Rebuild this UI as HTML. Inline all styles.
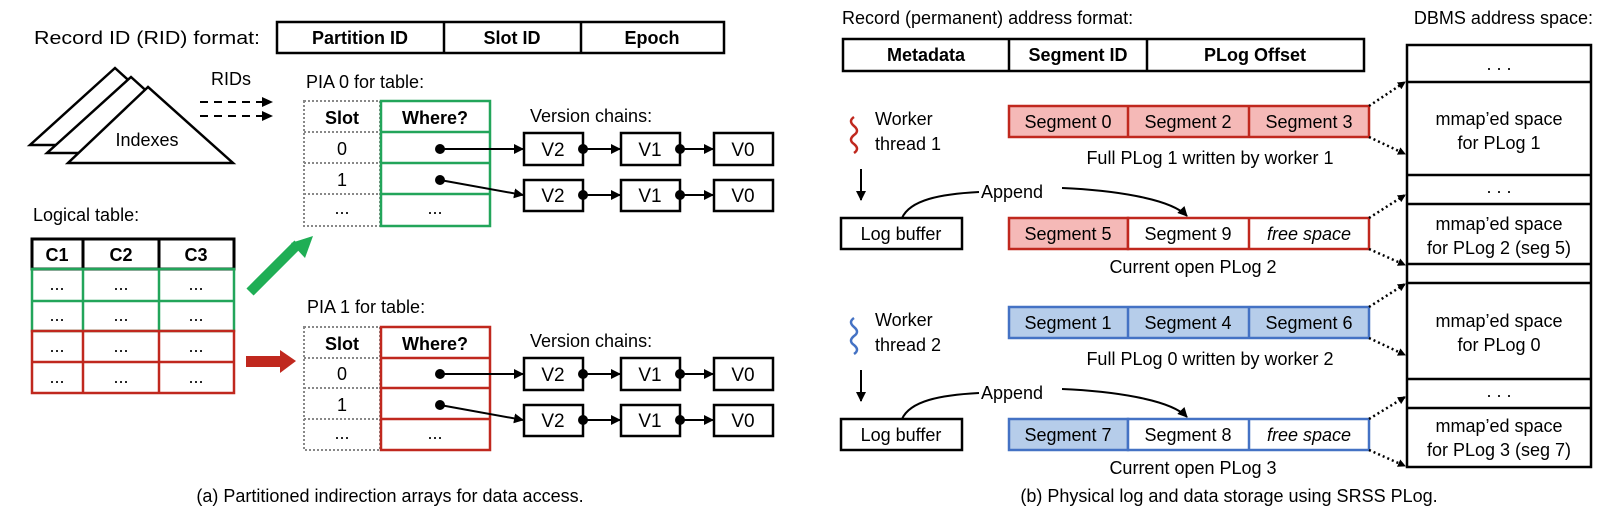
<!DOCTYPE html>
<html><head><meta charset="utf-8"><style>
html,body{margin:0;padding:0;background:#fff;}
svg{display:block;font-family:"Liberation Sans",sans-serif;}
</style></head><body>
<svg width="1620" height="516" viewBox="0 0 1620 516" xmlns="http://www.w3.org/2000/svg">
<defs>
<marker id="ah" markerWidth="10" markerHeight="10" refX="9" refY="5" orient="auto" markerUnits="userSpaceOnUse"><path d="M0,0 L10,5 L0,10 z" fill="#000"/></marker>
<marker id="ah2" markerWidth="8" markerHeight="8" refX="7" refY="4" orient="auto" markerUnits="userSpaceOnUse"><path d="M0,0 L8,4 L0,8 z" fill="#000"/></marker>
</defs>
<rect width="1620" height="516" fill="#fff"/>
<g font-size="18" fill="#000">
<!-- LEFT PANEL -->
<text x="34" y="44" textLength="226" lengthAdjust="spacingAndGlyphs">Record ID (RID) format:</text>
<g stroke="#000" stroke-width="2.5" fill="none">
<rect x="277" y="22" width="447" height="31"/>
<line x1="444" y1="22" x2="444" y2="53"/><line x1="581" y1="22" x2="581" y2="53"/>
</g>
<g font-weight="bold" text-anchor="middle">
<text x="360" y="44">Partition ID</text><text x="512" y="44">Slot ID</text><text x="652" y="44">Epoch</text>
</g>
<!-- triangles -->
<g stroke="#000" stroke-width="2.5" fill="#fff">
<polygon points="115,68 30,145 200,145"/>
<polygon points="131,77 47,153 215,153"/>
<polygon points="148,87 68,163 233,163"/>
</g>
<text x="147" y="146" text-anchor="middle">Indexes</text>
<text x="211" y="85">RIDs</text>
<g stroke="#000" stroke-width="2" stroke-dasharray="8,6"><line x1="200" y1="102" x2="264" y2="102"/><line x1="200" y1="116" x2="264" y2="116"/></g>
<path d="M262,97 L273,102 L262,107z M262,111 L273,116 L262,121z" fill="#000"/>

<!-- PIA 0 -->
<text x="306" y="88">PIA 0 for table:</text>
<g stroke="#888" stroke-width="2" stroke-dasharray="2,2" fill="none">
<rect x="304" y="101" width="76" height="125"/>
<line x1="304" y1="132" x2="380" y2="132"/><line x1="304" y1="163" x2="380" y2="163"/><line x1="304" y1="194" x2="380" y2="194"/>
</g>
<g stroke="#22a55a" stroke-width="2.5" fill="none">
<rect x="381" y="101" width="109" height="125"/>
<line x1="381" y1="132" x2="490" y2="132"/><line x1="381" y1="163" x2="490" y2="163"/><line x1="381" y1="194" x2="490" y2="194"/>
</g>
<g text-anchor="middle">
<text x="342" y="124" font-weight="bold">Slot</text><text x="435" y="124" font-weight="bold">Where?</text>
<text x="342" y="155">0</text><text x="342" y="186">1</text><text x="342" y="214">...</text><text x="435" y="214">...</text>
</g>
<!-- PIA 1 -->
<text x="307" y="313">PIA 1 for table:</text>
<g stroke="#888" stroke-width="2" stroke-dasharray="2,2" fill="none">
<rect x="304" y="327" width="76" height="123"/>
<line x1="304" y1="358" x2="380" y2="358"/><line x1="304" y1="388" x2="380" y2="388"/><line x1="304" y1="419" x2="380" y2="419"/>
</g>
<g stroke="#c0281e" stroke-width="2.5" fill="none">
<rect x="381" y="327" width="109" height="123"/>
<line x1="381" y1="358" x2="490" y2="358"/><line x1="381" y1="388" x2="490" y2="388"/><line x1="381" y1="419" x2="490" y2="419"/>
</g>
<g text-anchor="middle">
<text x="342" y="350" font-weight="bold">Slot</text><text x="435" y="350" font-weight="bold">Where?</text>
<text x="342" y="380">0</text><text x="342" y="411">1</text><text x="342" y="439">...</text><text x="435" y="439">...</text>
</g>

<!-- version chains -->
<text x="530" y="122">Version chains:</text>
<text x="530" y="347">Version chains:</text>
<g stroke="#000" stroke-width="2.5" fill="#fff">
<rect x="524" y="133" width="59" height="32"/><rect x="621" y="133" width="59" height="32"/><rect x="714" y="133" width="59" height="32"/>
<rect x="524" y="180" width="59" height="31"/><rect x="621" y="180" width="59" height="31"/><rect x="714" y="180" width="59" height="31"/>
<rect x="524" y="358" width="59" height="32"/><rect x="621" y="358" width="59" height="32"/><rect x="714" y="358" width="59" height="32"/>
<rect x="524" y="405" width="59" height="31"/><rect x="621" y="405" width="59" height="31"/><rect x="714" y="405" width="59" height="31"/>
</g>
<g text-anchor="middle" font-size="19">
<text x="553" y="156">V2</text><text x="650" y="156">V1</text><text x="743" y="156">V0</text>
<text x="553" y="202">V2</text><text x="650" y="202">V1</text><text x="743" y="202">V0</text>
<text x="553" y="381">V2</text><text x="650" y="381">V1</text><text x="743" y="381">V0</text>
<text x="553" y="427">V2</text><text x="650" y="427">V1</text><text x="743" y="427">V0</text>
</g>
<g stroke="#000" stroke-width="2" fill="none" marker-end="url(#ah)">
<line x1="440" y1="149" x2="523" y2="149"/><line x1="440" y1="180" x2="523" y2="195"/>
<line x1="440" y1="374" x2="523" y2="374"/><line x1="440" y1="405" x2="523" y2="420"/>
<line x1="584" y1="149" x2="620" y2="149"/><line x1="681" y1="149" x2="713" y2="149"/>
<line x1="584" y1="195" x2="620" y2="195"/><line x1="681" y1="195" x2="713" y2="195"/>
<line x1="584" y1="374" x2="620" y2="374"/><line x1="681" y1="374" x2="713" y2="374"/>
<line x1="584" y1="420" x2="620" y2="420"/><line x1="681" y1="420" x2="713" y2="420"/>
</g>
<g fill="#000">
<circle cx="440" cy="149" r="5"/><circle cx="440" cy="180" r="5"/><circle cx="440" cy="374" r="5"/><circle cx="440" cy="405" r="5"/>
<circle cx="583" cy="149" r="5"/><circle cx="680" cy="149" r="5"/><circle cx="583" cy="195" r="5"/><circle cx="680" cy="195" r="5"/>
<circle cx="583" cy="374" r="5"/><circle cx="680" cy="374" r="5"/><circle cx="583" cy="420" r="5"/><circle cx="680" cy="420" r="5"/>
</g>

<!-- logical table -->
<text x="33" y="221">Logical table:</text>
<g stroke="#000" stroke-width="3" fill="none"><rect x="32" y="239" width="202" height="30"/><line x1="83" y1="239" x2="83" y2="269"/><line x1="159" y1="239" x2="159" y2="269"/></g>
<g stroke="#22a55a" stroke-width="2.5" fill="none"><rect x="32" y="269" width="202" height="62"/><line x1="32" y1="301" x2="234" y2="301"/><line x1="83" y1="269" x2="83" y2="331"/><line x1="159" y1="269" x2="159" y2="331"/></g>
<g stroke="#c0281e" stroke-width="2.5" fill="none"><rect x="32" y="331" width="202" height="62"/><line x1="32" y1="362" x2="234" y2="362"/><line x1="83" y1="331" x2="83" y2="393"/><line x1="159" y1="331" x2="159" y2="393"/></g>
<g text-anchor="middle">
<g font-weight="bold"><text x="57" y="261">C1</text><text x="121" y="261">C2</text><text x="196" y="261">C3</text></g>
<text x="57" y="290">...</text><text x="121" y="290">...</text><text x="196" y="290">...</text>
<text x="57" y="321">...</text><text x="121" y="321">...</text><text x="196" y="321">...</text>
<text x="57" y="352">...</text><text x="121" y="352">...</text><text x="196" y="352">...</text>
<text x="57" y="383">...</text><text x="121" y="383">...</text><text x="196" y="383">...</text>
</g>
<line x1="250" y1="292" x2="298" y2="244" stroke="#1fae55" stroke-width="10"/>
<polygon points="313,236 305,258 291,243" fill="#1fae55"/>
<rect x="246" y="356" width="36" height="11" fill="#c0281e"/>
<polygon points="280,350 296,361 280,373" fill="#c0281e"/>

<text x="390" y="502" text-anchor="middle">(a) Partitioned indirection arrays for data access.</text>

<!-- RIGHT PANEL -->
<text x="842" y="24">Record (permanent) address format:</text>
<text x="1593" y="24" text-anchor="end">DBMS address space:</text>
<g stroke="#000" stroke-width="2.5" fill="none">
<rect x="843" y="39" width="521" height="32"/><line x1="1009" y1="39" x2="1009" y2="71"/><line x1="1147" y1="39" x2="1147" y2="71"/>
</g>
<g font-weight="bold" text-anchor="middle"><text x="926" y="61">Metadata</text><text x="1078" y="61">Segment ID</text><text x="1255" y="61">PLog Offset</text></g>

<!-- DBMS column -->
<g stroke="#000" stroke-width="2.5" fill="none">
<rect x="1407" y="45" width="184" height="422"/>
<line x1="1407" y1="82" x2="1591" y2="82"/><line x1="1407" y1="175" x2="1591" y2="175"/>
<line x1="1407" y1="204" x2="1591" y2="204"/><line x1="1407" y1="264" x2="1591" y2="264"/>
<line x1="1407" y1="283" x2="1591" y2="283"/><line x1="1407" y1="379" x2="1591" y2="379"/>
<line x1="1407" y1="408" x2="1591" y2="408"/>
</g>
<g text-anchor="middle">
<text x="1499" y="70">. . .</text><text x="1499" y="193">. . .</text><text x="1499" y="397">. . .</text>
<text x="1499" y="125">mmap’ed space</text><text x="1499" y="149">for PLog 1</text>
<text x="1499" y="230">mmap’ed space</text><text x="1499" y="254">for PLog 2 (seg 5)</text>
<text x="1499" y="327">mmap’ed space</text><text x="1499" y="351">for PLog 0</text>
<text x="1499" y="432">mmap’ed space</text><text x="1499" y="456">for PLog 3 (seg 7)</text>
</g>

<!-- worker 1 -->
<path d="M854,117 q-6,4 0,9 q6,5 0,9 q-6,5 0,9 q6,5 0,9" stroke="#c0281e" stroke-width="2.5" fill="none"/>
<text x="875" y="125">Worker</text><text x="875" y="150">thread 1</text>
<line x1="861" y1="169" x2="861" y2="200" stroke="#000" stroke-width="2" marker-end="url(#ah)"/>
<rect x="841" y="218" width="121" height="31" stroke="#000" stroke-width="2.5" fill="none"/>
<text x="901" y="240" text-anchor="middle">Log buffer</text>
<g stroke="#c0281e" stroke-width="2.5">
<rect x="1009" y="106" width="360" height="31" fill="#f5b9b7"/>
<rect x="1009" y="218" width="119" height="31" fill="#f5b9b7"/>
<rect x="1128" y="218" width="241" height="31" fill="#fff"/>
<line x1="1128" y1="106" x2="1128" y2="137"/><line x1="1249" y1="106" x2="1249" y2="137"/>
<line x1="1249" y1="218" x2="1249" y2="249"/>
</g>
<g text-anchor="middle">
<text x="1068" y="128">Segment 0</text><text x="1188" y="128">Segment 2</text><text x="1309" y="128">Segment 3</text>
<text x="1068" y="240">Segment 5</text><text x="1188" y="240">Segment 9</text><text x="1309" y="240" font-style="italic">free space</text>
<text x="1210" y="164">Full PLog 1 written by worker 1</text>
<text x="1193" y="273">Current open PLog 2</text>
</g>
<path d="M902,218 C910,200 940,194 979,192" stroke="#000" stroke-width="2" fill="none"/>
<text x="981" y="198">Append</text>
<path d="M1062,188 C1110,190 1170,198 1187,216" stroke="#000" stroke-width="2" fill="none" marker-end="url(#ah)"/>

<!-- worker 2 -->
<path d="M854,318 q-6,4 0,9 q6,5 0,9 q-6,5 0,9 q6,5 0,9" stroke="#4472c4" stroke-width="2.5" fill="none"/>
<text x="875" y="326">Worker</text><text x="875" y="351">thread 2</text>
<line x1="861" y1="370" x2="861" y2="401" stroke="#000" stroke-width="2" marker-end="url(#ah)"/>
<rect x="841" y="419" width="121" height="31" stroke="#000" stroke-width="2.5" fill="none"/>
<text x="901" y="441" text-anchor="middle">Log buffer</text>
<g stroke="#4472c4" stroke-width="2.5">
<rect x="1009" y="307" width="360" height="31" fill="#b6cdea"/>
<rect x="1009" y="419" width="119" height="31" fill="#b6cdea"/>
<rect x="1128" y="419" width="241" height="31" fill="#fff"/>
<line x1="1128" y1="307" x2="1128" y2="338"/><line x1="1249" y1="307" x2="1249" y2="338"/>
<line x1="1249" y1="419" x2="1249" y2="450"/>
</g>
<g text-anchor="middle">
<text x="1068" y="329">Segment 1</text><text x="1188" y="329">Segment 4</text><text x="1309" y="329">Segment 6</text>
<text x="1068" y="441">Segment 7</text><text x="1188" y="441">Segment 8</text><text x="1309" y="441" font-style="italic">free space</text>
<text x="1210" y="365">Full PLog 0 written by worker 2</text>
<text x="1193" y="474">Current open PLog 3</text>
</g>
<path d="M902,419 C910,401 940,395 979,393" stroke="#000" stroke-width="2" fill="none"/>
<text x="981" y="399">Append</text>
<path d="M1062,389 C1110,391 1170,399 1187,417" stroke="#000" stroke-width="2" fill="none" marker-end="url(#ah)"/>

<!-- dotted arrows -->
<g stroke="#000" stroke-width="2.5" stroke-dasharray="2,3" fill="none" marker-end="url(#ah2)">
<line x1="1369" y1="106" x2="1405" y2="82"/><line x1="1369" y1="137" x2="1405" y2="154"/>
<line x1="1369" y1="218" x2="1405" y2="195"/><line x1="1369" y1="249" x2="1405" y2="265"/>
<line x1="1369" y1="307" x2="1405" y2="284"/><line x1="1369" y1="338" x2="1405" y2="355"/>
<line x1="1369" y1="419" x2="1405" y2="397"/><line x1="1369" y1="450" x2="1405" y2="466"/>
</g>
<text x="1229" y="502" text-anchor="middle">(b) Physical log and data storage using SRSS PLog.</text>
</g>
</svg>
</body></html>
